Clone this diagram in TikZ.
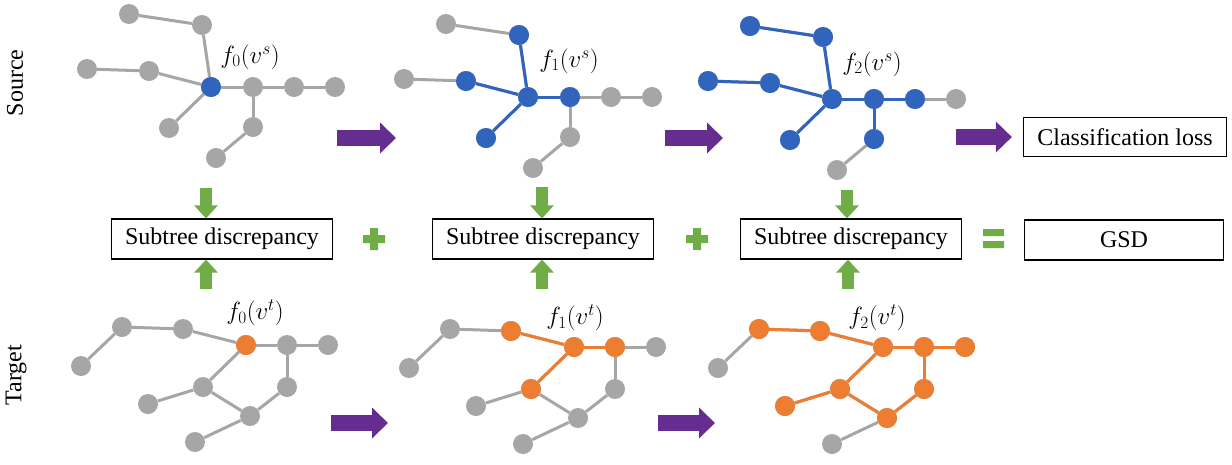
\documentclass[tikz,border=0pt]{standalone}
\usepackage{fontspec}
\setmainfont{Liberation Serif}
\usetikzlibrary{arrows.meta}

\definecolor{NodeGray}{RGB}{166,166,166}
\definecolor{SourceBlue}{RGB}{49,101,189}
\definecolor{TargetOrange}{RGB}{237,125,49}
\definecolor{MatchGreen}{RGB}{112,173,71}
\definecolor{FlowPurple}{RGB}{102,45,145}

\begin{document}
\begin{tikzpicture}[x=1pt, y=-1pt,
    vertex/.style={circle, fill=NodeGray, minimum size=20pt, inner sep=0pt},
    link/.style={line width=3pt, NodeGray},
    fname/.style={font=\fontsize{26}{30}\selectfont, inner sep=0pt},
    sidename/.style={font=\fontsize{24}{28}\selectfont, inner sep=0pt, rotate=90},
    lossbox/.style={draw, line width=1.2pt, font=\fontsize{24}{28}\selectfont,
        minimum height=40pt, inner sep=0pt},
    flow/.style={FlowPurple, line width=16pt, -{Triangle[width=30pt, length=16pt]}},
    match/.style={MatchGreen, line width=12pt, -{Triangle[width=23pt, length=13pt]}}]

    \useasboundingbox (0,0) rectangle (1232,464);

    \def\sourcenodes{a/-82/-73, b/-9/-62, c/-124/-18, d/-62/-16, o/0/0, e/42/0,
        f/83/0, g/124/0, h/-42/41, i/42/40, j/5/71}
    \def\sourcelinks{a/b, b/o, c/d, d/o, o/e, e/f, f/g, o/h, e/i, i/j}
    \def\targetnodes{p/-63/-16, q/-124/-18, r/-165/21, o/0/0, e/41/0, f/82/0,
        s/-43/42, t/-98/59, u/41/42, w/4/71, x/-51/97}
    \def\targetlinks{r/q, q/p, p/o, o/e, e/f, o/s, s/t, s/w, e/u, u/w, w/x}

    % source graphs
    \begin{scope}[shift={(211,87)}]
        \foreach \n/\x/\y in \sourcenodes \node[vertex] (sa\n) at (\x,\y) {};
        \foreach \u/\v in \sourcelinks \draw[link] (sa\u) -- (sa\v);
        \node[vertex, fill=SourceBlue] (sao) at (sao) {};
        \node[fname] (fsa) at (39,-30) {$f_0(v^s)$};
    \end{scope}
    \begin{scope}[shift={(528,97)}]
        \foreach \n/\x/\y in \sourcenodes \node[vertex] (sb\n) at (\x,\y) {};
        \foreach \u/\v in \sourcelinks \draw[link] (sb\u) -- (sb\v);
        \foreach \n in {o,b,d,h,e} \node[vertex, fill=SourceBlue] (sb\n) at (sb\n) {};
        \foreach \u/\v in {b/o, d/o, o/h, o/e} \draw[link, SourceBlue] (sb\u) -- (sb\v);
        \node[fname] (fsb) at (41,-36) {$f_1(v^s)$};
    \end{scope}
    \begin{scope}[shift={(832,99)}]
        \foreach \n/\x/\y in \sourcenodes \node[vertex] (sc\n) at (\x,\y) {};
        \foreach \u/\v in \sourcelinks \draw[link] (sc\u) -- (sc\v);
        \foreach \n in {o,a,b,c,d,h,e,f,i} \node[vertex, fill=SourceBlue] (sc\n) at (sc\n) {};
        \foreach \u/\v in {a/b, b/o, c/d, d/o, o/e, e/f, o/h, e/i}
            \draw[link, SourceBlue] (sc\u) -- (sc\v);
        \node[fname] (fsc) at (40,-35) {$f_2(v^s)$};
    \end{scope}

    % target graphs
    \begin{scope}[shift={(246,345)}]
        \foreach \n/\x/\y in \targetnodes \node[vertex] (ta\n) at (\x,\y) {};
        \foreach \u/\v in \targetlinks \draw[link] (ta\u) -- (ta\v);
        \node[vertex, fill=TargetOrange] (tao) at (tao) {};
        \node[fname] (fta) at (9,-32) {$f_0(v^t)$};
    \end{scope}
    \begin{scope}[shift={(574,347)}]
        \foreach \n/\x/\y in \targetnodes \node[vertex] (tb\n) at (\x,\y) {};
        \foreach \u/\v in \targetlinks \draw[link] (tb\u) -- (tb\v);
        \foreach \n in {o,p,e,s} \node[vertex, fill=TargetOrange] (tb\n) at (tb\n) {};
        \foreach \u/\v in {p/o, o/e, o/s} \draw[link, TargetOrange] (tb\u) -- (tb\v);
        \node[fname] (ftb) at (1,-29) {$f_1(v^t)$};
    \end{scope}
    \begin{scope}[shift={(883,347)}]
        \foreach \n/\x/\y in \targetnodes \node[vertex] (tc\n) at (\x,\y) {};
        \foreach \u/\v in \targetlinks \draw[link] (tc\u) -- (tc\v);
        \foreach \n in {o,p,q,e,f,s,t,u,w} \node[vertex, fill=TargetOrange] (tc\n) at (tc\n) {};
        \foreach \u/\v in {q/p, p/o, o/e, e/f, o/s, s/t, s/w, e/u, u/w}
            \draw[link, TargetOrange] (tc\u) -- (tc\v);
        \node[fname] (ftc) at (-6,-29) {$f_2(v^t)$};
    \end{scope}

    \node[sidename] (srclabel) at (15,83) {Source};
    \node[sidename] (tgtlabel) at (16,375) {Target};

    % discrepancy row
    \node[lossbox, minimum width=221pt] (sda) at (222,239) {Subtree discrepancy};
    \node[lossbox, minimum width=221pt] (sdb) at (543,239) {Subtree discrepancy};
    \node[lossbox, minimum width=221pt] (sdc) at (851,239) {Subtree discrepancy};
    \node[lossbox, minimum width=199pt] (gsd) at (1124,240) {GSD};
    \node[lossbox, minimum width=203pt, minimum height=39pt] (closs) at (1125,137) {Classification loss};

    \fill[MatchGreen] (363,235) rectangle (385,243) (370,228) rectangle (378,250);
    \fill[MatchGreen] (686,235) rectangle (708,243) (693,228) rectangle (701,250);
    \fill[MatchGreen] (983,229) rectangle (1004,236) (983,241) rectangle (1004,248);

    \coordinate (gda) at (206,188);
    \coordinate (gdb) at (542,187);
    \coordinate (gdc) at (847,190);
    \coordinate (gua) at (206,289);
    \coordinate (gub) at (542,289);
    \coordinate (guc) at (848,289);
    \draw[match] (gda) -- (gda |- sda.north);
    \draw[match] (gdb) -- (gdb |- sdb.north);
    \draw[match] (gdc) -- (gdc |- sdc.north);
    \draw[match] (gua) -- (gua |- sda.south);
    \draw[match] (gub) -- (gub |- sdb.south);
    \draw[match] (guc) -- (guc |- sdc.south);

    % propagation arrows
    \coordinate (psa) at (337,138);
    \coordinate (psb) at (665,138);
    \coordinate (psc) at (956,137);
    \coordinate (pta) at (331,423);
    \coordinate (ptb) at (658,423);
    \draw[flow] (psa) -- ++(59,0);
    \draw[flow] (psb) -- ++(58,0);
    \draw[flow] (psc) -- ([xshift=-11pt]psc -| closs.west);
    \draw[flow] (pta) -- ++(57,0);
    \draw[flow] (ptb) -- ++(57,0);

\end{tikzpicture}
\end{document}
